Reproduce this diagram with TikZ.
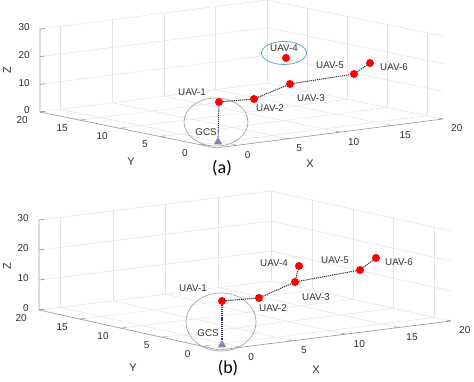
\documentclass[tikz,border=0pt]{standalone}
\usepackage{fontspec}
\setmainfont{Liberation Sans}
\newfontfamily\capfont{Carlito}
\usetikzlibrary{shapes.geometric}
\definecolor{gridc}{RGB}{228,228,228}
\definecolor{axisc}{RGB}{160,160,160}
\definecolor{tickc}{RGB}{45,45,45}
\definecolor{gcsc}{RGB}{135,135,175}
\definecolor{tealc}{RGB}{95,170,180}
\definecolor{linkc}{RGB}{50,50,50}
\definecolor{gcslink}{RGB}{50,50,90}
\tikzset{
 gridline/.style={draw=gridc, line width=0.5pt},
 axisline/.style={draw=axisc, line width=0.7pt},
 ticklab/.style={font=\fontsize{10}{11}\selectfont, text=tickc, inner sep=0pt},
 axlab/.style={font=\fontsize{11}{12}\selectfont, text=tickc, inner sep=0pt},
 uav/.style={circle, fill=red, inner sep=0pt, minimum size=8pt},
 gcs/.style={regular polygon, regular polygon sides=3, fill=gcsc, inner sep=0pt, minimum size=10pt},
 lab/.style={font=\fontsize{9.8}{11}\selectfont, text=black!80, inner sep=0pt},
 link/.style={draw=linkc, dash pattern=on 1.2pt off 0.9pt, line width=1pt},
 uplink/.style={draw=gcslink, dash pattern=on 1.2pt off 0.9pt, line width=1.1pt},
 ring/.style={draw=gray!70, line width=0.7pt, ellipse, inner sep=0pt},
 tealring/.style={draw=tealc, line width=0.8pt, ellipse, inner sep=0pt},
 panlab/.style={font=\capfont\fontsize{18}{20}\selectfont, inner sep=0pt},
}
\newcommand{\plotbox}[5]{%
\begin{scope}[x={#3},y={#4},z={#5},shift={#2},shift={(2,2,0)}]
\foreach \v in {0,5,10,15,20}{
 \draw[gridline] (\v,-2,0) -- (\v,20,0);
 \draw[gridline] (-2,\v,0) -- (20,\v,0);
 \draw[gridline] (\v,20,0) -- (\v,20,30);
 \draw[gridline] (20,\v,0) -- (20,\v,30);
}
\foreach \w in {10,20,30}{
 \draw[gridline] (-2,20,\w) -- (20,20,\w) -- (20,-2,\w);
}
\draw[axisline] (-2,20,30) -- (-2,20,0) -- (-2,-2,0) -- (20,-2,0);
\foreach \v in {0,5,10,15,20}{
 \draw[axisline] (\v,-2,0) -- (\v,-1.5,0);
 \draw[axisline] (-2,\v,0) -- (-1.5,\v,0);
 \node[ticklab, anchor=west, xshift=8pt, yshift=-9.5pt] (#1-xt\v) at (\v,-2,0) {\v};
 \node[ticklab, anchor=east, xshift=-12pt, yshift=-8pt] (#1-yt\v) at (-2,\v,0) {\v};
}
\foreach \w in {0,10,20,30}{
 \draw[axisline] (-2,20,\w) -- (-1.5,20,\w);
 \node[ticklab, anchor=east, xshift=-10pt, yshift=1.5pt] (#1-zt\w) at (-2,20,\w) {\w};
}
\end{scope}}
\begin{document}
\begin{tikzpicture}[x=1pt,y=1pt]
\useasboundingbox (0,0) rectangle (474,382);
\plotbox{a}{(216pt,234pt)}{(10.318pt,1.318pt)}{(-8pt,1.636pt)}{(0pt,2.767pt)}
\plotbox{b}{(219pt,32pt)}{(10.545pt,1.318pt)}{(-8.182pt,1.818pt)}{(0pt,3pt)}
% axis labels
\node[axlab] (a-xl) at (310,218) {X};
\node[axlab] (a-yl) at (131,220) {Y};
\node[axlab, rotate=90] (a-zl) at (7,312) {Z};
\node[axlab] (b-xl) at (316,12) {X};
\node[axlab] (b-yl) at (133,14) {Y};
\node[axlab, rotate=90] (b-zl) at (7,116) {Z};
% panel (a)
\node[ring, minimum width=64pt, minimum height=48pt] (a-ring) at (216,260) {};
\node[tealring, minimum width=45pt, minimum height=23pt] (a-ring4) at (284,329) {};
\node[gcs] (a-gcs) at (218,240) {};
\node[uav] (a-u1) at (219,280) {};
\node[uav] (a-u2) at (254,283) {};
\node[uav] (a-u3) at (290,298) {};
\node[uav] (a-u4) at (286,324) {};
\node[uav] (a-u5) at (354,308) {};
\node[uav] (a-u6) at (370,319) {};
\draw[uplink] (a-gcs) -- (a-u1);
\draw[link] (a-u1) -- (a-u2);
\draw[link] (a-u2) -- (a-u3);
\draw[link] (a-u3) -- (a-u5);
\draw[link] (a-u5) -- (a-u6);
\node[lab] (a-l1) at (192,290) {UAV-1};
\node[lab] (a-lg) at (206,250) {GCS};
\node[lab] (a-l2) at (270,274) {UAV-2};
\node[lab] (a-l3) at (311,284) {UAV-3};
\node[lab] (a-l4) at (284,334) {UAV-4};
\node[lab] (a-l5) at (330,317) {UAV-5};
\node[lab] (a-l6) at (394,315) {UAV-6};
\node[panlab] (a-cap) at (222,214) {(a)};
% panel (b)
\node[ring, minimum width=70pt, minimum height=58pt] (b-ring) at (221,60) {};
\node[gcs] (b-gcs) at (222,37) {};
\node[uav] (b-u1) at (222,81) {};
\node[uav] (b-u2) at (259,84) {};
\node[uav] (b-u3) at (295,100) {};
\node[uav] (b-u4) at (299,116) {};
\node[uav] (b-u5) at (360,112) {};
\node[uav] (b-u6) at (376,124) {};
\draw[uplink] (b-gcs) -- (b-u1);
\draw[link] (b-u1) -- (b-u2);
\draw[link] (b-u2) -- (b-u3);
\draw[link] (b-u3) -- (b-u4);
\draw[link] (b-u3) -- (b-u5);
\draw[link] (b-u5) -- (b-u6);
\node[lab] (b-l1) at (193,94) {UAV-1};
\node[lab] (b-lg) at (208,49) {GCS};
\node[lab] (b-l2) at (273,74) {UAV-2};
\node[lab] (b-l3) at (316,85) {UAV-3};
\node[lab] (b-l4) at (274,119) {UAV-4};
\node[lab] (b-l5) at (335,122) {UAV-5};
\node[lab] (b-l6) at (399,120) {UAV-6};
\node[panlab] (b-cap) at (228,14) {(b)};
\end{tikzpicture}
\end{document}
